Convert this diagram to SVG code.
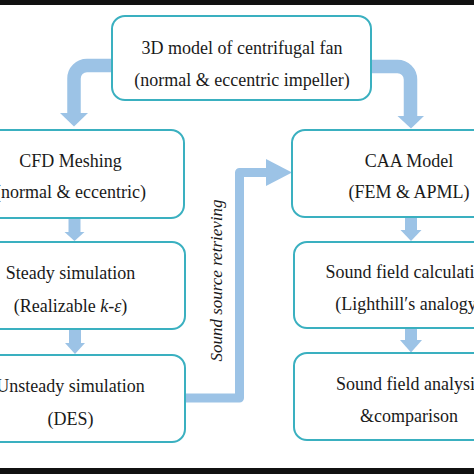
<svg xmlns="http://www.w3.org/2000/svg" width="474" height="474" viewBox="0 0 474 474">
<style>
.box{fill:#ffffff;stroke:#3ab0c0;stroke-width:2}
.t{font-family:"Liberation Serif","Times New Roman",serif;font-size:18px;fill:#1a1a1a;text-anchor:middle}
.band{fill:none;stroke:#9cc3e6}
.head{fill:#9cc3e6}
</style>
<rect x="0" y="0" width="474" height="474" fill="#ffffff"/>
<rect x="0" y="0" width="474" height="5" fill="#111111"/>
<rect x="0" y="468" width="474" height="6" fill="#111111"/>

<g id="connectors">
  <path class="band" stroke-width="13.5" d="M113 65.5 H87 A13 13 0 0 0 74 78.5 V114"/>
  <polygon class="head" points="60,113 88,113 74,126.5"/>
  <path class="band" stroke-width="13.5" d="M370 66.5 H397.5 A13 13 0 0 1 410.5 79.5 V117"/>
  <polygon class="head" points="397.5,116 424,116 411,128.5"/>
  <path class="band" stroke-width="12" d="M74.5 218 V233"/>
  <polygon class="head" points="64.5,232 84.5,232 74.5,241"/>
  <path class="band" stroke-width="12" d="M75 329 V344"/>
  <polygon class="head" points="65,343 85,343 75,354"/>
  <path class="band" stroke-width="12" d="M411 217 V231"/>
  <polygon class="head" points="400.5,230 421.5,230 411,241"/>
  <path class="band" stroke-width="12" d="M411 328 V341"/>
  <polygon class="head" points="400,340 422,340 411,352.5"/>
  <path class="band" stroke-width="9" stroke-linejoin="round" d="M185 398 H239.5 V172.5 H267"/>
  <polygon class="head" points="266,159 266,186 292,172.5"/>
  <text x="222" y="280.5" transform="rotate(-90 222 280.5)" style="font-family:'Liberation Serif','Times New Roman',serif;font-size:17px;font-style:italic;fill:#1a1a1a;text-anchor:middle">Sound source retrieving</text>
</g>

<g id="node-3d-model">
  <rect class="box" x="112" y="16" width="259" height="84" rx="13"/>
  <text class="t" x="242" y="54">3D model of centrifugal fan</text>
  <text class="t" x="242" y="86">(normal &amp; eccentric impeller)</text>
</g>
<g id="node-cfd-meshing">
  <rect class="box" x="-43" y="130" width="227" height="88" rx="13"/>
  <text class="t" x="70.5" y="166.5">CFD Meshing</text>
  <text class="t" x="70.5" y="198">(normal &amp; eccentric)</text>
</g>
<g id="node-steady">
  <rect class="box" x="-43" y="242" width="228" height="87" rx="13"/>
  <text class="t" x="70.5" y="279">Steady simulation</text>
  <text class="t" x="70.5" y="311.5">(Realizable <tspan font-style="italic">k</tspan>-<tspan font-style="italic">ε</tspan>)</text>
</g>
<g id="node-unsteady">
  <rect class="box" x="-43" y="355" width="228" height="87" rx="13"/>
  <text class="t" x="70.5" y="391.5">Unsteady simulation</text>
  <text class="t" x="70.5" y="424.5">(DES)</text>
</g>
<g id="node-caa">
  <rect class="box" x="292" y="130" width="233" height="87" rx="13"/>
  <text class="t" x="409" y="166.5">CAA Model</text>
  <text class="t" x="409" y="198">(FEM &amp; APML)</text>
</g>
<g id="node-sound-calc">
  <rect class="box" x="294" y="242" width="231" height="86" rx="13"/>
  <text class="t" x="409" y="278">Sound field calculation</text>
  <text class="t" x="409" y="310">(Lighthill′s analogy)</text>
</g>
<g id="node-sound-analysis">
  <rect class="box" x="294" y="353" width="231" height="87" rx="13"/>
  <text class="t" x="409" y="390">Sound field analysis</text>
  <text class="t" x="409" y="421.5">&amp;comparison</text>
</g>
</svg>
